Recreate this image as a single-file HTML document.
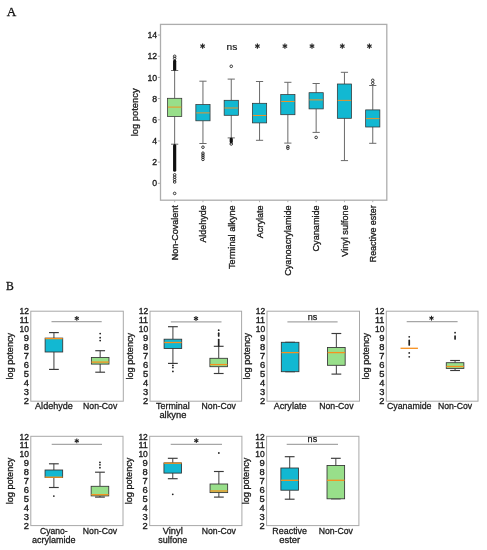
<!DOCTYPE html>
<html><head><meta charset="utf-8"><style>
html,body{margin:0;padding:0;background:#fff;}
body{width:487px;height:550px;overflow:hidden;position:relative;}
svg{position:absolute;left:0;top:0;will-change:transform;filter:blur(0.3px);}
</style></head><body>
<svg width="487" height="550" viewBox="0 0 487 550">
<rect x="0" y="0" width="487" height="550" fill="#fff"/>
<text x="11.5" y="16.3" font-family='"Liberation Serif", serif' font-size="13.2" text-anchor="middle" fill="#111" stroke="#111" stroke-width="0.3" font-weight="normal">A</text>
<line x1="157.8" y1="183.3" x2="160.5" y2="183.3" stroke="#a8a8a8" stroke-width="1"/>
<text x="157.2" y="186.4" font-family='"Liberation Sans", sans-serif' font-size="8.7" text-anchor="end" fill="#1a1a1a" stroke="#1a1a1a" stroke-width="0.32" font-weight="normal">0</text>
<line x1="157.8" y1="162.12" x2="160.5" y2="162.12" stroke="#a8a8a8" stroke-width="1"/>
<text x="157.2" y="165.22" font-family='"Liberation Sans", sans-serif' font-size="8.7" text-anchor="end" fill="#1a1a1a" stroke="#1a1a1a" stroke-width="0.32" font-weight="normal">2</text>
<line x1="157.8" y1="140.94" x2="160.5" y2="140.94" stroke="#a8a8a8" stroke-width="1"/>
<text x="157.2" y="144.04" font-family='"Liberation Sans", sans-serif' font-size="8.7" text-anchor="end" fill="#1a1a1a" stroke="#1a1a1a" stroke-width="0.32" font-weight="normal">4</text>
<line x1="157.8" y1="119.76" x2="160.5" y2="119.76" stroke="#a8a8a8" stroke-width="1"/>
<text x="157.2" y="122.86" font-family='"Liberation Sans", sans-serif' font-size="8.7" text-anchor="end" fill="#1a1a1a" stroke="#1a1a1a" stroke-width="0.32" font-weight="normal">6</text>
<line x1="157.8" y1="98.58" x2="160.5" y2="98.58" stroke="#a8a8a8" stroke-width="1"/>
<text x="157.2" y="101.68" font-family='"Liberation Sans", sans-serif' font-size="8.7" text-anchor="end" fill="#1a1a1a" stroke="#1a1a1a" stroke-width="0.32" font-weight="normal">8</text>
<line x1="157.8" y1="77.4" x2="160.5" y2="77.4" stroke="#a8a8a8" stroke-width="1"/>
<text x="157.2" y="80.5" font-family='"Liberation Sans", sans-serif' font-size="8.7" text-anchor="end" fill="#1a1a1a" stroke="#1a1a1a" stroke-width="0.32" font-weight="normal">10</text>
<line x1="157.8" y1="56.22" x2="160.5" y2="56.22" stroke="#a8a8a8" stroke-width="1"/>
<text x="157.2" y="59.32" font-family='"Liberation Sans", sans-serif' font-size="8.7" text-anchor="end" fill="#1a1a1a" stroke="#1a1a1a" stroke-width="0.32" font-weight="normal">12</text>
<line x1="157.8" y1="35.04" x2="160.5" y2="35.04" stroke="#a8a8a8" stroke-width="1"/>
<text x="157.2" y="38.14" font-family='"Liberation Sans", sans-serif' font-size="8.7" text-anchor="end" fill="#1a1a1a" stroke="#1a1a1a" stroke-width="0.32" font-weight="normal">14</text>
<text x="138.3" y="112.3" font-family='"Liberation Sans", sans-serif' font-size="8.8" text-anchor="middle" fill="#1a1a1a" stroke="#1a1a1a" stroke-width="0.3" font-weight="normal" transform="rotate(-90 138.3 112.3)" textLength="48" lengthAdjust="spacingAndGlyphs">log potency</text>
<g id="A-boxes">
<line x1="174.65" y1="70.5" x2="174.65" y2="98.3" stroke="#6a6a6a" stroke-width="1"/>
<line x1="174.65" y1="116.5" x2="174.65" y2="144.2" stroke="#6a6a6a" stroke-width="1"/>
<line x1="171.05" y1="70.5" x2="178.25" y2="70.5" stroke="#6a6a6a" stroke-width="1"/>
<line x1="171.05" y1="144.2" x2="178.25" y2="144.2" stroke="#6a6a6a" stroke-width="1"/>
<rect x="167.55" y="98.3" width="14.2" height="18.2" fill="#98df8a" stroke="#333333" stroke-width="0.75"/>
<line x1="167.95" y1="107.1" x2="181.35" y2="107.1" stroke="#f7901e" stroke-width="0.95"/>
<line x1="202.95" y1="81.2" x2="202.95" y2="104.6" stroke="#6a6a6a" stroke-width="1"/>
<line x1="202.95" y1="120.8" x2="202.95" y2="143.5" stroke="#6a6a6a" stroke-width="1"/>
<line x1="199.35" y1="81.2" x2="206.55" y2="81.2" stroke="#6a6a6a" stroke-width="1"/>
<line x1="199.35" y1="143.5" x2="206.55" y2="143.5" stroke="#6a6a6a" stroke-width="1"/>
<rect x="195.85" y="104.6" width="14.2" height="16.2" fill="#12b8d2" stroke="#333333" stroke-width="0.75"/>
<line x1="196.25" y1="112.9" x2="209.65" y2="112.9" stroke="#f7901e" stroke-width="0.95"/>
<line x1="231.25" y1="79.1" x2="231.25" y2="100.3" stroke="#6a6a6a" stroke-width="1"/>
<line x1="231.25" y1="115.3" x2="231.25" y2="137.9" stroke="#6a6a6a" stroke-width="1"/>
<line x1="227.65" y1="79.1" x2="234.85" y2="79.1" stroke="#6a6a6a" stroke-width="1"/>
<line x1="227.65" y1="137.9" x2="234.85" y2="137.9" stroke="#6a6a6a" stroke-width="1"/>
<rect x="224.15" y="100.3" width="14.2" height="15" fill="#12b8d2" stroke="#333333" stroke-width="0.75"/>
<line x1="224.55" y1="108" x2="237.95" y2="108" stroke="#f7901e" stroke-width="0.95"/>
<line x1="259.55" y1="81.5" x2="259.55" y2="103.3" stroke="#6a6a6a" stroke-width="1"/>
<line x1="259.55" y1="122.9" x2="259.55" y2="140.3" stroke="#6a6a6a" stroke-width="1"/>
<line x1="255.95" y1="81.5" x2="263.15" y2="81.5" stroke="#6a6a6a" stroke-width="1"/>
<line x1="255.95" y1="140.3" x2="263.15" y2="140.3" stroke="#6a6a6a" stroke-width="1"/>
<rect x="252.45" y="103.3" width="14.2" height="19.6" fill="#12b8d2" stroke="#333333" stroke-width="0.75"/>
<line x1="252.85" y1="115.5" x2="266.25" y2="115.5" stroke="#f7901e" stroke-width="0.95"/>
<line x1="287.85" y1="82.3" x2="287.85" y2="94.6" stroke="#6a6a6a" stroke-width="1"/>
<line x1="287.85" y1="114.7" x2="287.85" y2="143.1" stroke="#6a6a6a" stroke-width="1"/>
<line x1="284.25" y1="82.3" x2="291.45" y2="82.3" stroke="#6a6a6a" stroke-width="1"/>
<line x1="284.25" y1="143.1" x2="291.45" y2="143.1" stroke="#6a6a6a" stroke-width="1"/>
<rect x="280.75" y="94.6" width="14.2" height="20.1" fill="#12b8d2" stroke="#333333" stroke-width="0.75"/>
<line x1="281.15" y1="101.5" x2="294.55" y2="101.5" stroke="#f7901e" stroke-width="0.95"/>
<line x1="316.15" y1="83.5" x2="316.15" y2="92.7" stroke="#6a6a6a" stroke-width="1"/>
<line x1="316.15" y1="108.9" x2="316.15" y2="132.4" stroke="#6a6a6a" stroke-width="1"/>
<line x1="312.55" y1="83.5" x2="319.75" y2="83.5" stroke="#6a6a6a" stroke-width="1"/>
<line x1="312.55" y1="132.4" x2="319.75" y2="132.4" stroke="#6a6a6a" stroke-width="1"/>
<rect x="309.05" y="92.7" width="14.2" height="16.2" fill="#12b8d2" stroke="#333333" stroke-width="0.75"/>
<line x1="309.45" y1="99.9" x2="322.85" y2="99.9" stroke="#f7901e" stroke-width="0.95"/>
<line x1="344.45" y1="72.3" x2="344.45" y2="84" stroke="#6a6a6a" stroke-width="1"/>
<line x1="344.45" y1="118.3" x2="344.45" y2="160.6" stroke="#6a6a6a" stroke-width="1"/>
<line x1="340.85" y1="72.3" x2="348.05" y2="72.3" stroke="#6a6a6a" stroke-width="1"/>
<line x1="340.85" y1="160.6" x2="348.05" y2="160.6" stroke="#6a6a6a" stroke-width="1"/>
<rect x="337.35" y="84" width="14.2" height="34.3" fill="#12b8d2" stroke="#333333" stroke-width="0.75"/>
<line x1="337.75" y1="100.4" x2="351.15" y2="100.4" stroke="#f7901e" stroke-width="0.95"/>
<line x1="372.75" y1="85.5" x2="372.75" y2="109.9" stroke="#6a6a6a" stroke-width="1"/>
<line x1="372.75" y1="127" x2="372.75" y2="143.3" stroke="#6a6a6a" stroke-width="1"/>
<line x1="369.15" y1="85.5" x2="376.35" y2="85.5" stroke="#6a6a6a" stroke-width="1"/>
<line x1="369.15" y1="143.3" x2="376.35" y2="143.3" stroke="#6a6a6a" stroke-width="1"/>
<rect x="365.65" y="109.9" width="14.2" height="17.1" fill="#12b8d2" stroke="#333333" stroke-width="0.75"/>
<line x1="366.05" y1="118.6" x2="379.45" y2="118.6" stroke="#f7901e" stroke-width="0.95"/>
</g>
<rect x="173.05" y="59.6" width="3.2" height="11.2" rx="1.6" fill="#111"/>
<circle cx="174.65" cy="56.3" r="1.3" fill="none" stroke="#1a1a1a" stroke-width="0.85"/>
<circle cx="174.65" cy="58.4" r="1.3" fill="none" stroke="#1a1a1a" stroke-width="0.85"/>
<rect x="173.05" y="144" width="3.2" height="27.8" rx="1.6" fill="#111"/>
<circle cx="174.65" cy="174.8" r="1.3" fill="none" stroke="#1a1a1a" stroke-width="0.85"/>
<circle cx="174.65" cy="177.2" r="1.3" fill="none" stroke="#1a1a1a" stroke-width="0.85"/>
<circle cx="174.65" cy="179.6" r="1.3" fill="none" stroke="#1a1a1a" stroke-width="0.85"/>
<circle cx="174.65" cy="182" r="1.3" fill="none" stroke="#1a1a1a" stroke-width="0.85"/>
<circle cx="174.65" cy="193.4" r="1.3" fill="none" stroke="#1a1a1a" stroke-width="0.85"/>
<circle cx="202.95" cy="147.2" r="1.3" fill="none" stroke="#1a1a1a" stroke-width="0.85"/>
<circle cx="202.95" cy="153.2" r="1.3" fill="none" stroke="#1a1a1a" stroke-width="0.85"/>
<circle cx="202.95" cy="155.2" r="1.3" fill="none" stroke="#1a1a1a" stroke-width="0.85"/>
<circle cx="202.95" cy="157.2" r="1.3" fill="none" stroke="#1a1a1a" stroke-width="0.85"/>
<circle cx="202.95" cy="159.4" r="1.3" fill="none" stroke="#1a1a1a" stroke-width="0.85"/>
<circle cx="231.25" cy="66.3" r="1.3" fill="none" stroke="#1a1a1a" stroke-width="0.85"/>
<rect x="229.65" y="137.4" width="3.2" height="6" rx="1.6" fill="#111"/>
<circle cx="231.25" cy="144" r="1.3" fill="none" stroke="#1a1a1a" stroke-width="0.85"/>
<circle cx="287.85" cy="146.6" r="1.3" fill="none" stroke="#1a1a1a" stroke-width="0.85"/>
<circle cx="287.85" cy="148.3" r="1.3" fill="none" stroke="#1a1a1a" stroke-width="0.85"/>
<circle cx="316.15" cy="137.4" r="1.3" fill="none" stroke="#1a1a1a" stroke-width="0.85"/>
<circle cx="372.75" cy="80.3" r="1.3" fill="none" stroke="#1a1a1a" stroke-width="0.85"/>
<circle cx="372.75" cy="83.3" r="1.3" fill="none" stroke="#1a1a1a" stroke-width="0.85"/>
<line x1="202.6" y1="43.5" x2="202.6" y2="48.7" stroke="#2a2a2a" stroke-width="1.2"/>
<line x1="200.35" y1="44.8" x2="204.85" y2="47.4" stroke="#2a2a2a" stroke-width="1.2"/>
<line x1="200.35" y1="47.4" x2="204.85" y2="44.8" stroke="#2a2a2a" stroke-width="1.2"/>
<line x1="257.4" y1="43.5" x2="257.4" y2="48.7" stroke="#2a2a2a" stroke-width="1.2"/>
<line x1="255.15" y1="44.8" x2="259.65" y2="47.4" stroke="#2a2a2a" stroke-width="1.2"/>
<line x1="255.15" y1="47.4" x2="259.65" y2="44.8" stroke="#2a2a2a" stroke-width="1.2"/>
<line x1="284.9" y1="43.5" x2="284.9" y2="48.7" stroke="#2a2a2a" stroke-width="1.2"/>
<line x1="282.65" y1="44.8" x2="287.15" y2="47.4" stroke="#2a2a2a" stroke-width="1.2"/>
<line x1="282.65" y1="47.4" x2="287.15" y2="44.8" stroke="#2a2a2a" stroke-width="1.2"/>
<line x1="312" y1="43.5" x2="312" y2="48.7" stroke="#2a2a2a" stroke-width="1.2"/>
<line x1="309.75" y1="44.8" x2="314.25" y2="47.4" stroke="#2a2a2a" stroke-width="1.2"/>
<line x1="309.75" y1="47.4" x2="314.25" y2="44.8" stroke="#2a2a2a" stroke-width="1.2"/>
<line x1="342.3" y1="43.5" x2="342.3" y2="48.7" stroke="#2a2a2a" stroke-width="1.2"/>
<line x1="340.05" y1="44.8" x2="344.55" y2="47.4" stroke="#2a2a2a" stroke-width="1.2"/>
<line x1="340.05" y1="47.4" x2="344.55" y2="44.8" stroke="#2a2a2a" stroke-width="1.2"/>
<line x1="369.4" y1="43.5" x2="369.4" y2="48.7" stroke="#2a2a2a" stroke-width="1.2"/>
<line x1="367.15" y1="44.8" x2="371.65" y2="47.4" stroke="#2a2a2a" stroke-width="1.2"/>
<line x1="367.15" y1="47.4" x2="371.65" y2="44.8" stroke="#2a2a2a" stroke-width="1.2"/>
<text x="231.9" y="49.7" font-family='"Liberation Sans", sans-serif' font-size="9.8" text-anchor="middle" fill="#1a1a1a" stroke="#1a1a1a" stroke-width="0.2" font-weight="normal" textLength="10.8" lengthAdjust="spacingAndGlyphs">ns</text>
<text x="177.95" y="205.3" font-family='"Liberation Sans", sans-serif' font-size="8.7" text-anchor="end" fill="#1a1a1a" stroke="#1a1a1a" stroke-width="0.3" font-weight="normal" transform="rotate(-90 177.95 205.3)" textLength="55" lengthAdjust="spacingAndGlyphs">Non-Covalent</text>
<text x="206.25" y="205.3" font-family='"Liberation Sans", sans-serif' font-size="8.7" text-anchor="end" fill="#1a1a1a" stroke="#1a1a1a" stroke-width="0.3" font-weight="normal" transform="rotate(-90 206.25 205.3)" textLength="37.3" lengthAdjust="spacingAndGlyphs">Aldehyde</text>
<text x="234.55" y="205.3" font-family='"Liberation Sans", sans-serif' font-size="8.7" text-anchor="end" fill="#1a1a1a" stroke="#1a1a1a" stroke-width="0.3" font-weight="normal" transform="rotate(-90 234.55 205.3)" textLength="63.7" lengthAdjust="spacingAndGlyphs">Terminal alkyne</text>
<text x="262.85" y="205.3" font-family='"Liberation Sans", sans-serif' font-size="8.7" text-anchor="end" fill="#1a1a1a" stroke="#1a1a1a" stroke-width="0.3" font-weight="normal" transform="rotate(-90 262.85 205.3)" textLength="33" lengthAdjust="spacingAndGlyphs">Acrylate</text>
<text x="291.15" y="205.3" font-family='"Liberation Sans", sans-serif' font-size="8.7" text-anchor="end" fill="#1a1a1a" stroke="#1a1a1a" stroke-width="0.3" font-weight="normal" transform="rotate(-90 291.15 205.3)" textLength="70.5" lengthAdjust="spacingAndGlyphs">Cyanoacrylamide</text>
<text x="319.45" y="205.3" font-family='"Liberation Sans", sans-serif' font-size="8.7" text-anchor="end" fill="#1a1a1a" stroke="#1a1a1a" stroke-width="0.3" font-weight="normal" transform="rotate(-90 319.45 205.3)" textLength="46.2" lengthAdjust="spacingAndGlyphs">Cyanamide</text>
<text x="347.75" y="205.3" font-family='"Liberation Sans", sans-serif' font-size="8.7" text-anchor="end" fill="#1a1a1a" stroke="#1a1a1a" stroke-width="0.3" font-weight="normal" transform="rotate(-90 347.75 205.3)" textLength="51.4" lengthAdjust="spacingAndGlyphs">Vinyl sulfone</text>
<text x="376.05" y="205.3" font-family='"Liberation Sans", sans-serif' font-size="8.7" text-anchor="end" fill="#1a1a1a" stroke="#1a1a1a" stroke-width="0.3" font-weight="normal" transform="rotate(-90 376.05 205.3)" textLength="57" lengthAdjust="spacingAndGlyphs">Reactive ester</text>
<line x1="174.65" y1="200.2" x2="174.65" y2="202.2" stroke="#a8a8a8" stroke-width="0.9"/>
<line x1="202.95" y1="200.2" x2="202.95" y2="202.2" stroke="#a8a8a8" stroke-width="0.9"/>
<line x1="231.25" y1="200.2" x2="231.25" y2="202.2" stroke="#a8a8a8" stroke-width="0.9"/>
<line x1="259.55" y1="200.2" x2="259.55" y2="202.2" stroke="#a8a8a8" stroke-width="0.9"/>
<line x1="287.85" y1="200.2" x2="287.85" y2="202.2" stroke="#a8a8a8" stroke-width="0.9"/>
<line x1="316.15" y1="200.2" x2="316.15" y2="202.2" stroke="#a8a8a8" stroke-width="0.9"/>
<line x1="344.45" y1="200.2" x2="344.45" y2="202.2" stroke="#a8a8a8" stroke-width="0.9"/>
<line x1="372.75" y1="200.2" x2="372.75" y2="202.2" stroke="#a8a8a8" stroke-width="0.9"/>
<rect x="160.5" y="24.4" width="226.3" height="175.8" fill="none" stroke="#adadad" stroke-width="1.3"/>
<text x="9.9" y="290" font-family='"Liberation Serif", serif' font-size="13.5" text-anchor="middle" fill="#111" stroke="#111" stroke-width="0.3" font-weight="normal" textLength="7.8" lengthAdjust="spacingAndGlyphs">B</text>
<text x="28.9" y="404.4" font-family='"Liberation Sans", sans-serif' font-size="8.9" text-anchor="end" fill="#1a1a1a" stroke="#1a1a1a" stroke-width="0.35" font-weight="normal" textLength="5.2" lengthAdjust="spacingAndGlyphs">2</text>
<text x="28.9" y="395.4" font-family='"Liberation Sans", sans-serif' font-size="8.9" text-anchor="end" fill="#1a1a1a" stroke="#1a1a1a" stroke-width="0.35" font-weight="normal" textLength="5.2" lengthAdjust="spacingAndGlyphs">3</text>
<text x="28.9" y="386.4" font-family='"Liberation Sans", sans-serif' font-size="8.9" text-anchor="end" fill="#1a1a1a" stroke="#1a1a1a" stroke-width="0.35" font-weight="normal" textLength="5.2" lengthAdjust="spacingAndGlyphs">4</text>
<text x="28.9" y="377.4" font-family='"Liberation Sans", sans-serif' font-size="8.9" text-anchor="end" fill="#1a1a1a" stroke="#1a1a1a" stroke-width="0.35" font-weight="normal" textLength="5.2" lengthAdjust="spacingAndGlyphs">5</text>
<text x="28.9" y="368.4" font-family='"Liberation Sans", sans-serif' font-size="8.9" text-anchor="end" fill="#1a1a1a" stroke="#1a1a1a" stroke-width="0.35" font-weight="normal" textLength="5.2" lengthAdjust="spacingAndGlyphs">6</text>
<text x="28.9" y="359.4" font-family='"Liberation Sans", sans-serif' font-size="8.9" text-anchor="end" fill="#1a1a1a" stroke="#1a1a1a" stroke-width="0.35" font-weight="normal" textLength="5.2" lengthAdjust="spacingAndGlyphs">7</text>
<text x="28.9" y="350.4" font-family='"Liberation Sans", sans-serif' font-size="8.9" text-anchor="end" fill="#1a1a1a" stroke="#1a1a1a" stroke-width="0.35" font-weight="normal" textLength="5.2" lengthAdjust="spacingAndGlyphs">8</text>
<text x="28.9" y="341.4" font-family='"Liberation Sans", sans-serif' font-size="8.9" text-anchor="end" fill="#1a1a1a" stroke="#1a1a1a" stroke-width="0.35" font-weight="normal" textLength="5.2" lengthAdjust="spacingAndGlyphs">9</text>
<text x="28.9" y="332.4" font-family='"Liberation Sans", sans-serif' font-size="8.9" text-anchor="end" fill="#1a1a1a" stroke="#1a1a1a" stroke-width="0.35" font-weight="normal" textLength="9.4" lengthAdjust="spacingAndGlyphs">10</text>
<text x="28.9" y="323.4" font-family='"Liberation Sans", sans-serif' font-size="8.9" text-anchor="end" fill="#1a1a1a" stroke="#1a1a1a" stroke-width="0.35" font-weight="normal" textLength="9.4" lengthAdjust="spacingAndGlyphs">11</text>
<text x="28.9" y="314.4" font-family='"Liberation Sans", sans-serif' font-size="8.9" text-anchor="end" fill="#1a1a1a" stroke="#1a1a1a" stroke-width="0.35" font-weight="normal" textLength="9.4" lengthAdjust="spacingAndGlyphs">12</text>
<text x="13.5" y="356.2" font-family='"Liberation Sans", sans-serif' font-size="8.6" text-anchor="middle" fill="#1a1a1a" stroke="#1a1a1a" stroke-width="0.3" font-weight="normal" transform="rotate(-90 13.5 356.2)" textLength="46.7" lengthAdjust="spacingAndGlyphs">log potency</text>
<line x1="53.92" y1="332.6" x2="53.92" y2="338.1" stroke="#505050" stroke-width="1.1"/>
<line x1="53.92" y1="352" x2="53.92" y2="369.4" stroke="#505050" stroke-width="1.1"/>
<line x1="49.02" y1="332.6" x2="58.82" y2="332.6" stroke="#3a3a3a" stroke-width="1.15"/>
<line x1="49.02" y1="369.4" x2="58.82" y2="369.4" stroke="#3a3a3a" stroke-width="1.15"/>
<rect x="45.12" y="338.1" width="17.6" height="13.9" fill="#12b8d2" stroke="#333333" stroke-width="0.85"/>
<line x1="45.23" y1="338.6" x2="62.62" y2="338.6" stroke="#f7901e" stroke-width="1.3"/>
<line x1="100.17" y1="350.7" x2="100.17" y2="357.5" stroke="#505050" stroke-width="1.1"/>
<line x1="100.17" y1="364.1" x2="100.17" y2="372.2" stroke="#505050" stroke-width="1.1"/>
<line x1="95.27" y1="350.7" x2="105.08" y2="350.7" stroke="#3a3a3a" stroke-width="1.15"/>
<line x1="95.27" y1="372.2" x2="105.08" y2="372.2" stroke="#3a3a3a" stroke-width="1.15"/>
<rect x="91.38" y="357.5" width="17.6" height="6.6" fill="#98df8a" stroke="#333333" stroke-width="0.85"/>
<line x1="91.47" y1="362.1" x2="108.88" y2="362.1" stroke="#f7901e" stroke-width="1.3"/>
<circle cx="100.17" cy="333.6" r="0.9" fill="#222"/>
<circle cx="100.17" cy="337.7" r="0.9" fill="#222"/>
<circle cx="100.17" cy="340.6" r="0.9" fill="#222"/>
<line x1="51.5" y1="321.7" x2="101.7" y2="321.7" stroke="#a6a6a6" stroke-width="1.25"/>
<line x1="76.8" y1="315.9" x2="76.8" y2="320.7" stroke="#222" stroke-width="1.05"/>
<line x1="74.72" y1="317.1" x2="78.88" y2="319.5" stroke="#222" stroke-width="1.05"/>
<line x1="74.72" y1="319.5" x2="78.88" y2="317.1" stroke="#222" stroke-width="1.05"/>
<text x="53.92" y="409.1" font-family='"Liberation Sans", sans-serif' font-size="8.8" text-anchor="middle" fill="#1a1a1a" stroke="#1a1a1a" stroke-width="0.28" font-weight="normal" textLength="37.6" lengthAdjust="spacingAndGlyphs">Aldehyde</text>
<text x="100.17" y="409.1" font-family='"Liberation Sans", sans-serif' font-size="8.8" text-anchor="middle" fill="#1a1a1a" stroke="#1a1a1a" stroke-width="0.28" font-weight="normal" textLength="34.2" lengthAdjust="spacingAndGlyphs">Non-Cov</text>
<rect x="30.8" y="311.2" width="92.5" height="90" fill="none" stroke="#a8a8a8" stroke-width="1.0"/>
<text x="148.1" y="404.4" font-family='"Liberation Sans", sans-serif' font-size="8.9" text-anchor="end" fill="#1a1a1a" stroke="#1a1a1a" stroke-width="0.35" font-weight="normal" textLength="5.2" lengthAdjust="spacingAndGlyphs">2</text>
<text x="148.1" y="395.4" font-family='"Liberation Sans", sans-serif' font-size="8.9" text-anchor="end" fill="#1a1a1a" stroke="#1a1a1a" stroke-width="0.35" font-weight="normal" textLength="5.2" lengthAdjust="spacingAndGlyphs">3</text>
<text x="148.1" y="386.4" font-family='"Liberation Sans", sans-serif' font-size="8.9" text-anchor="end" fill="#1a1a1a" stroke="#1a1a1a" stroke-width="0.35" font-weight="normal" textLength="5.2" lengthAdjust="spacingAndGlyphs">4</text>
<text x="148.1" y="377.4" font-family='"Liberation Sans", sans-serif' font-size="8.9" text-anchor="end" fill="#1a1a1a" stroke="#1a1a1a" stroke-width="0.35" font-weight="normal" textLength="5.2" lengthAdjust="spacingAndGlyphs">5</text>
<text x="148.1" y="368.4" font-family='"Liberation Sans", sans-serif' font-size="8.9" text-anchor="end" fill="#1a1a1a" stroke="#1a1a1a" stroke-width="0.35" font-weight="normal" textLength="5.2" lengthAdjust="spacingAndGlyphs">6</text>
<text x="148.1" y="359.4" font-family='"Liberation Sans", sans-serif' font-size="8.9" text-anchor="end" fill="#1a1a1a" stroke="#1a1a1a" stroke-width="0.35" font-weight="normal" textLength="5.2" lengthAdjust="spacingAndGlyphs">7</text>
<text x="148.1" y="350.4" font-family='"Liberation Sans", sans-serif' font-size="8.9" text-anchor="end" fill="#1a1a1a" stroke="#1a1a1a" stroke-width="0.35" font-weight="normal" textLength="5.2" lengthAdjust="spacingAndGlyphs">8</text>
<text x="148.1" y="341.4" font-family='"Liberation Sans", sans-serif' font-size="8.9" text-anchor="end" fill="#1a1a1a" stroke="#1a1a1a" stroke-width="0.35" font-weight="normal" textLength="5.2" lengthAdjust="spacingAndGlyphs">9</text>
<text x="148.1" y="332.4" font-family='"Liberation Sans", sans-serif' font-size="8.9" text-anchor="end" fill="#1a1a1a" stroke="#1a1a1a" stroke-width="0.35" font-weight="normal" textLength="9.4" lengthAdjust="spacingAndGlyphs">10</text>
<text x="148.1" y="323.4" font-family='"Liberation Sans", sans-serif' font-size="8.9" text-anchor="end" fill="#1a1a1a" stroke="#1a1a1a" stroke-width="0.35" font-weight="normal" textLength="9.4" lengthAdjust="spacingAndGlyphs">11</text>
<text x="148.1" y="314.4" font-family='"Liberation Sans", sans-serif' font-size="8.9" text-anchor="end" fill="#1a1a1a" stroke="#1a1a1a" stroke-width="0.35" font-weight="normal" textLength="9.4" lengthAdjust="spacingAndGlyphs">12</text>
<text x="132.7" y="356.2" font-family='"Liberation Sans", sans-serif' font-size="8.6" text-anchor="middle" fill="#1a1a1a" stroke="#1a1a1a" stroke-width="0.3" font-weight="normal" transform="rotate(-90 132.7 356.2)" textLength="46.7" lengthAdjust="spacingAndGlyphs">log potency</text>
<line x1="172.9" y1="326.7" x2="172.9" y2="339.2" stroke="#505050" stroke-width="1.1"/>
<line x1="172.9" y1="348.5" x2="172.9" y2="363.4" stroke="#505050" stroke-width="1.1"/>
<line x1="168" y1="326.7" x2="177.8" y2="326.7" stroke="#3a3a3a" stroke-width="1.15"/>
<line x1="168" y1="363.4" x2="177.8" y2="363.4" stroke="#3a3a3a" stroke-width="1.15"/>
<rect x="164.1" y="339.2" width="17.6" height="9.3" fill="#12b8d2" stroke="#333333" stroke-width="0.85"/>
<line x1="164.2" y1="342.5" x2="181.6" y2="342.5" stroke="#f7901e" stroke-width="1.3"/>
<circle cx="172.9" cy="365.5" r="0.9" fill="#222"/>
<circle cx="172.9" cy="367.6" r="0.9" fill="#222"/>
<circle cx="172.9" cy="371.4" r="0.9" fill="#222"/>
<line x1="218.7" y1="346.3" x2="218.7" y2="358.3" stroke="#505050" stroke-width="1.1"/>
<line x1="218.7" y1="366.7" x2="218.7" y2="373.5" stroke="#505050" stroke-width="1.1"/>
<line x1="213.8" y1="346.3" x2="223.6" y2="346.3" stroke="#3a3a3a" stroke-width="1.15"/>
<line x1="213.8" y1="373.5" x2="223.6" y2="373.5" stroke="#3a3a3a" stroke-width="1.15"/>
<rect x="209.9" y="358.3" width="17.6" height="8.4" fill="#98df8a" stroke="#333333" stroke-width="0.85"/>
<line x1="210" y1="364.6" x2="227.4" y2="364.6" stroke="#f7901e" stroke-width="1.3"/>
<circle cx="218.7" cy="330.2" r="0.9" fill="#222"/>
<rect x="217.85" y="332.35" width="1.7" height="4.5" rx="0.85" fill="#222"/>
<rect x="217.85" y="338.75" width="1.7" height="8.1" rx="0.85" fill="#222"/>
<line x1="170.8" y1="321.8" x2="221.5" y2="321.8" stroke="#a6a6a6" stroke-width="1.25"/>
<line x1="196" y1="316.1" x2="196" y2="320.9" stroke="#222" stroke-width="1.05"/>
<line x1="193.92" y1="317.3" x2="198.08" y2="319.7" stroke="#222" stroke-width="1.05"/>
<line x1="193.92" y1="319.7" x2="198.08" y2="317.3" stroke="#222" stroke-width="1.05"/>
<text x="172.9" y="409.1" font-family='"Liberation Sans", sans-serif' font-size="8.8" text-anchor="middle" fill="#1a1a1a" stroke="#1a1a1a" stroke-width="0.28" font-weight="normal" textLength="33.6" lengthAdjust="spacingAndGlyphs">Terminal</text>
<text x="172.9" y="418" font-family='"Liberation Sans", sans-serif' font-size="8.8" text-anchor="middle" fill="#1a1a1a" stroke="#1a1a1a" stroke-width="0.28" font-weight="normal" textLength="27" lengthAdjust="spacingAndGlyphs">alkyne</text>
<text x="218.7" y="409.1" font-family='"Liberation Sans", sans-serif' font-size="8.8" text-anchor="middle" fill="#1a1a1a" stroke="#1a1a1a" stroke-width="0.28" font-weight="normal" textLength="34.2" lengthAdjust="spacingAndGlyphs">Non-Cov</text>
<rect x="150" y="311.2" width="91.6" height="90" fill="none" stroke="#a8a8a8" stroke-width="1.0"/>
<text x="265.1" y="404.4" font-family='"Liberation Sans", sans-serif' font-size="8.9" text-anchor="end" fill="#1a1a1a" stroke="#1a1a1a" stroke-width="0.35" font-weight="normal" textLength="5.2" lengthAdjust="spacingAndGlyphs">2</text>
<text x="265.1" y="395.4" font-family='"Liberation Sans", sans-serif' font-size="8.9" text-anchor="end" fill="#1a1a1a" stroke="#1a1a1a" stroke-width="0.35" font-weight="normal" textLength="5.2" lengthAdjust="spacingAndGlyphs">3</text>
<text x="265.1" y="386.4" font-family='"Liberation Sans", sans-serif' font-size="8.9" text-anchor="end" fill="#1a1a1a" stroke="#1a1a1a" stroke-width="0.35" font-weight="normal" textLength="5.2" lengthAdjust="spacingAndGlyphs">4</text>
<text x="265.1" y="377.4" font-family='"Liberation Sans", sans-serif' font-size="8.9" text-anchor="end" fill="#1a1a1a" stroke="#1a1a1a" stroke-width="0.35" font-weight="normal" textLength="5.2" lengthAdjust="spacingAndGlyphs">5</text>
<text x="265.1" y="368.4" font-family='"Liberation Sans", sans-serif' font-size="8.9" text-anchor="end" fill="#1a1a1a" stroke="#1a1a1a" stroke-width="0.35" font-weight="normal" textLength="5.2" lengthAdjust="spacingAndGlyphs">6</text>
<text x="265.1" y="359.4" font-family='"Liberation Sans", sans-serif' font-size="8.9" text-anchor="end" fill="#1a1a1a" stroke="#1a1a1a" stroke-width="0.35" font-weight="normal" textLength="5.2" lengthAdjust="spacingAndGlyphs">7</text>
<text x="265.1" y="350.4" font-family='"Liberation Sans", sans-serif' font-size="8.9" text-anchor="end" fill="#1a1a1a" stroke="#1a1a1a" stroke-width="0.35" font-weight="normal" textLength="5.2" lengthAdjust="spacingAndGlyphs">8</text>
<text x="265.1" y="341.4" font-family='"Liberation Sans", sans-serif' font-size="8.9" text-anchor="end" fill="#1a1a1a" stroke="#1a1a1a" stroke-width="0.35" font-weight="normal" textLength="5.2" lengthAdjust="spacingAndGlyphs">9</text>
<text x="265.1" y="332.4" font-family='"Liberation Sans", sans-serif' font-size="8.9" text-anchor="end" fill="#1a1a1a" stroke="#1a1a1a" stroke-width="0.35" font-weight="normal" textLength="9.4" lengthAdjust="spacingAndGlyphs">10</text>
<text x="265.1" y="323.4" font-family='"Liberation Sans", sans-serif' font-size="8.9" text-anchor="end" fill="#1a1a1a" stroke="#1a1a1a" stroke-width="0.35" font-weight="normal" textLength="9.4" lengthAdjust="spacingAndGlyphs">11</text>
<text x="265.1" y="314.4" font-family='"Liberation Sans", sans-serif' font-size="8.9" text-anchor="end" fill="#1a1a1a" stroke="#1a1a1a" stroke-width="0.35" font-weight="normal" textLength="9.4" lengthAdjust="spacingAndGlyphs">12</text>
<text x="249.7" y="356.2" font-family='"Liberation Sans", sans-serif' font-size="8.6" text-anchor="middle" fill="#1a1a1a" stroke="#1a1a1a" stroke-width="0.3" font-weight="normal" transform="rotate(-90 249.7 356.2)" textLength="46.7" lengthAdjust="spacingAndGlyphs">log potency</text>
<line x1="290.12" y1="342.3" x2="290.12" y2="342.3" stroke="#505050" stroke-width="1.1"/>
<line x1="290.12" y1="371.7" x2="290.12" y2="371.7" stroke="#505050" stroke-width="1.1"/>
<line x1="285.23" y1="342.3" x2="295.02" y2="342.3" stroke="#3a3a3a" stroke-width="1.15"/>
<line x1="285.23" y1="371.7" x2="295.02" y2="371.7" stroke="#3a3a3a" stroke-width="1.15"/>
<rect x="281.32" y="342.3" width="17.6" height="29.4" fill="#12b8d2" stroke="#333333" stroke-width="0.85"/>
<line x1="281.43" y1="352.6" x2="298.82" y2="352.6" stroke="#f7901e" stroke-width="1.3"/>
<line x1="336.38" y1="333.5" x2="336.38" y2="347.5" stroke="#505050" stroke-width="1.1"/>
<line x1="336.38" y1="365.3" x2="336.38" y2="374.1" stroke="#505050" stroke-width="1.1"/>
<line x1="331.48" y1="333.5" x2="341.27" y2="333.5" stroke="#3a3a3a" stroke-width="1.15"/>
<line x1="331.48" y1="374.1" x2="341.27" y2="374.1" stroke="#3a3a3a" stroke-width="1.15"/>
<rect x="327.57" y="347.5" width="17.6" height="17.8" fill="#98df8a" stroke="#333333" stroke-width="0.85"/>
<line x1="327.68" y1="352.6" x2="345.07" y2="352.6" stroke="#f7901e" stroke-width="1.3"/>
<line x1="287.4" y1="321.8" x2="337.6" y2="321.8" stroke="#a6a6a6" stroke-width="1.25"/>
<text x="312.5" y="319.8" font-family='"Liberation Sans", sans-serif' font-size="9.6" text-anchor="middle" fill="#1a1a1a" stroke="#1a1a1a" stroke-width="0.25" font-weight="normal" textLength="9.6" lengthAdjust="spacingAndGlyphs">ns</text>
<text x="290.12" y="409.1" font-family='"Liberation Sans", sans-serif' font-size="8.8" text-anchor="middle" fill="#1a1a1a" stroke="#1a1a1a" stroke-width="0.28" font-weight="normal" textLength="32.8" lengthAdjust="spacingAndGlyphs">Acrylate</text>
<text x="336.38" y="409.1" font-family='"Liberation Sans", sans-serif' font-size="8.8" text-anchor="middle" fill="#1a1a1a" stroke="#1a1a1a" stroke-width="0.28" font-weight="normal" textLength="34.2" lengthAdjust="spacingAndGlyphs">Non-Cov</text>
<rect x="267" y="311.2" width="92.5" height="90" fill="none" stroke="#a8a8a8" stroke-width="1.0"/>
<text x="384.4" y="404.4" font-family='"Liberation Sans", sans-serif' font-size="8.9" text-anchor="end" fill="#1a1a1a" stroke="#1a1a1a" stroke-width="0.35" font-weight="normal" textLength="5.2" lengthAdjust="spacingAndGlyphs">2</text>
<text x="384.4" y="395.4" font-family='"Liberation Sans", sans-serif' font-size="8.9" text-anchor="end" fill="#1a1a1a" stroke="#1a1a1a" stroke-width="0.35" font-weight="normal" textLength="5.2" lengthAdjust="spacingAndGlyphs">3</text>
<text x="384.4" y="386.4" font-family='"Liberation Sans", sans-serif' font-size="8.9" text-anchor="end" fill="#1a1a1a" stroke="#1a1a1a" stroke-width="0.35" font-weight="normal" textLength="5.2" lengthAdjust="spacingAndGlyphs">4</text>
<text x="384.4" y="377.4" font-family='"Liberation Sans", sans-serif' font-size="8.9" text-anchor="end" fill="#1a1a1a" stroke="#1a1a1a" stroke-width="0.35" font-weight="normal" textLength="5.2" lengthAdjust="spacingAndGlyphs">5</text>
<text x="384.4" y="368.4" font-family='"Liberation Sans", sans-serif' font-size="8.9" text-anchor="end" fill="#1a1a1a" stroke="#1a1a1a" stroke-width="0.35" font-weight="normal" textLength="5.2" lengthAdjust="spacingAndGlyphs">6</text>
<text x="384.4" y="359.4" font-family='"Liberation Sans", sans-serif' font-size="8.9" text-anchor="end" fill="#1a1a1a" stroke="#1a1a1a" stroke-width="0.35" font-weight="normal" textLength="5.2" lengthAdjust="spacingAndGlyphs">7</text>
<text x="384.4" y="350.4" font-family='"Liberation Sans", sans-serif' font-size="8.9" text-anchor="end" fill="#1a1a1a" stroke="#1a1a1a" stroke-width="0.35" font-weight="normal" textLength="5.2" lengthAdjust="spacingAndGlyphs">8</text>
<text x="384.4" y="341.4" font-family='"Liberation Sans", sans-serif' font-size="8.9" text-anchor="end" fill="#1a1a1a" stroke="#1a1a1a" stroke-width="0.35" font-weight="normal" textLength="5.2" lengthAdjust="spacingAndGlyphs">9</text>
<text x="384.4" y="332.4" font-family='"Liberation Sans", sans-serif' font-size="8.9" text-anchor="end" fill="#1a1a1a" stroke="#1a1a1a" stroke-width="0.35" font-weight="normal" textLength="9.4" lengthAdjust="spacingAndGlyphs">10</text>
<text x="384.4" y="323.4" font-family='"Liberation Sans", sans-serif' font-size="8.9" text-anchor="end" fill="#1a1a1a" stroke="#1a1a1a" stroke-width="0.35" font-weight="normal" textLength="9.4" lengthAdjust="spacingAndGlyphs">11</text>
<text x="384.4" y="314.4" font-family='"Liberation Sans", sans-serif' font-size="8.9" text-anchor="end" fill="#1a1a1a" stroke="#1a1a1a" stroke-width="0.35" font-weight="normal" textLength="9.4" lengthAdjust="spacingAndGlyphs">12</text>
<text x="369" y="356.2" font-family='"Liberation Sans", sans-serif' font-size="8.6" text-anchor="middle" fill="#1a1a1a" stroke="#1a1a1a" stroke-width="0.3" font-weight="normal" transform="rotate(-90 369 356.2)" textLength="46.7" lengthAdjust="spacingAndGlyphs">log potency</text>
<line x1="400.53" y1="348.3" x2="417.93" y2="348.3" stroke="#f7901e" stroke-width="1.3"/>
<circle cx="409.23" cy="336.8" r="0.9" fill="#222"/>
<rect x="408.38" y="339.55" width="1.7" height="6.3" rx="0.85" fill="#222"/>
<circle cx="409.23" cy="352.9" r="0.9" fill="#222"/>
<circle cx="409.23" cy="356.8" r="0.9" fill="#222"/>
<line x1="455.07" y1="360.5" x2="455.07" y2="362.7" stroke="#505050" stroke-width="1.1"/>
<line x1="455.07" y1="368.4" x2="455.07" y2="370.5" stroke="#505050" stroke-width="1.1"/>
<line x1="450.18" y1="360.5" x2="459.97" y2="360.5" stroke="#3a3a3a" stroke-width="1.15"/>
<line x1="450.18" y1="370.5" x2="459.97" y2="370.5" stroke="#3a3a3a" stroke-width="1.15"/>
<rect x="446.27" y="362.7" width="17.6" height="5.7" fill="#98df8a" stroke="#333333" stroke-width="0.85"/>
<line x1="446.38" y1="366.5" x2="463.77" y2="366.5" stroke="#f7901e" stroke-width="1.3"/>
<circle cx="455.07" cy="332.7" r="0.9" fill="#222"/>
<rect x="454.22" y="335.15" width="1.7" height="4.7" rx="0.85" fill="#222"/>
<line x1="406.7" y1="321.7" x2="457.6" y2="321.7" stroke="#a6a6a6" stroke-width="1.25"/>
<line x1="431.5" y1="315.8" x2="431.5" y2="320.6" stroke="#222" stroke-width="1.05"/>
<line x1="429.42" y1="317" x2="433.58" y2="319.4" stroke="#222" stroke-width="1.05"/>
<line x1="429.42" y1="319.4" x2="433.58" y2="317" stroke="#222" stroke-width="1.05"/>
<text x="409.23" y="409.1" font-family='"Liberation Sans", sans-serif' font-size="8.8" text-anchor="middle" fill="#1a1a1a" stroke="#1a1a1a" stroke-width="0.28" font-weight="normal" textLength="44.5" lengthAdjust="spacingAndGlyphs">Cyanamide</text>
<text x="455.07" y="409.1" font-family='"Liberation Sans", sans-serif' font-size="8.8" text-anchor="middle" fill="#1a1a1a" stroke="#1a1a1a" stroke-width="0.28" font-weight="normal" textLength="34.2" lengthAdjust="spacingAndGlyphs">Non-Cov</text>
<rect x="386.3" y="311.2" width="91.7" height="90" fill="none" stroke="#a8a8a8" stroke-width="1.0"/>
<text x="28.9" y="528.8" font-family='"Liberation Sans", sans-serif' font-size="8.9" text-anchor="end" fill="#1a1a1a" stroke="#1a1a1a" stroke-width="0.35" font-weight="normal" textLength="5.2" lengthAdjust="spacingAndGlyphs">2</text>
<text x="28.9" y="519.87" font-family='"Liberation Sans", sans-serif' font-size="8.9" text-anchor="end" fill="#1a1a1a" stroke="#1a1a1a" stroke-width="0.35" font-weight="normal" textLength="5.2" lengthAdjust="spacingAndGlyphs">3</text>
<text x="28.9" y="510.94" font-family='"Liberation Sans", sans-serif' font-size="8.9" text-anchor="end" fill="#1a1a1a" stroke="#1a1a1a" stroke-width="0.35" font-weight="normal" textLength="5.2" lengthAdjust="spacingAndGlyphs">4</text>
<text x="28.9" y="502.01" font-family='"Liberation Sans", sans-serif' font-size="8.9" text-anchor="end" fill="#1a1a1a" stroke="#1a1a1a" stroke-width="0.35" font-weight="normal" textLength="5.2" lengthAdjust="spacingAndGlyphs">5</text>
<text x="28.9" y="493.08" font-family='"Liberation Sans", sans-serif' font-size="8.9" text-anchor="end" fill="#1a1a1a" stroke="#1a1a1a" stroke-width="0.35" font-weight="normal" textLength="5.2" lengthAdjust="spacingAndGlyphs">6</text>
<text x="28.9" y="484.15" font-family='"Liberation Sans", sans-serif' font-size="8.9" text-anchor="end" fill="#1a1a1a" stroke="#1a1a1a" stroke-width="0.35" font-weight="normal" textLength="5.2" lengthAdjust="spacingAndGlyphs">7</text>
<text x="28.9" y="475.22" font-family='"Liberation Sans", sans-serif' font-size="8.9" text-anchor="end" fill="#1a1a1a" stroke="#1a1a1a" stroke-width="0.35" font-weight="normal" textLength="5.2" lengthAdjust="spacingAndGlyphs">8</text>
<text x="28.9" y="466.29" font-family='"Liberation Sans", sans-serif' font-size="8.9" text-anchor="end" fill="#1a1a1a" stroke="#1a1a1a" stroke-width="0.35" font-weight="normal" textLength="5.2" lengthAdjust="spacingAndGlyphs">9</text>
<text x="28.9" y="457.36" font-family='"Liberation Sans", sans-serif' font-size="8.9" text-anchor="end" fill="#1a1a1a" stroke="#1a1a1a" stroke-width="0.35" font-weight="normal" textLength="9.4" lengthAdjust="spacingAndGlyphs">10</text>
<text x="28.9" y="448.43" font-family='"Liberation Sans", sans-serif' font-size="8.9" text-anchor="end" fill="#1a1a1a" stroke="#1a1a1a" stroke-width="0.35" font-weight="normal" textLength="9.4" lengthAdjust="spacingAndGlyphs">11</text>
<text x="28.9" y="439.5" font-family='"Liberation Sans", sans-serif' font-size="8.9" text-anchor="end" fill="#1a1a1a" stroke="#1a1a1a" stroke-width="0.35" font-weight="normal" textLength="9.4" lengthAdjust="spacingAndGlyphs">12</text>
<text x="13.5" y="480.95" font-family='"Liberation Sans", sans-serif' font-size="8.6" text-anchor="middle" fill="#1a1a1a" stroke="#1a1a1a" stroke-width="0.3" font-weight="normal" transform="rotate(-90 13.5 480.95)" textLength="46.7" lengthAdjust="spacingAndGlyphs">log potency</text>
<line x1="53.85" y1="463.8" x2="53.85" y2="470" stroke="#505050" stroke-width="1.1"/>
<line x1="53.85" y1="477.5" x2="53.85" y2="487.5" stroke="#505050" stroke-width="1.1"/>
<line x1="48.95" y1="463.8" x2="58.75" y2="463.8" stroke="#3a3a3a" stroke-width="1.15"/>
<line x1="48.95" y1="487.5" x2="58.75" y2="487.5" stroke="#3a3a3a" stroke-width="1.15"/>
<rect x="45.05" y="470" width="17.6" height="7.5" fill="#12b8d2" stroke="#333333" stroke-width="0.85"/>
<line x1="45.15" y1="477.2" x2="62.55" y2="477.2" stroke="#f7901e" stroke-width="1.3"/>
<circle cx="53.85" cy="496.1" r="0.9" fill="#222"/>
<line x1="99.95" y1="472.2" x2="99.95" y2="486.3" stroke="#505050" stroke-width="1.1"/>
<line x1="99.95" y1="495.9" x2="99.95" y2="497.1" stroke="#505050" stroke-width="1.1"/>
<line x1="95.05" y1="472.2" x2="104.85" y2="472.2" stroke="#3a3a3a" stroke-width="1.15"/>
<line x1="95.05" y1="497.1" x2="104.85" y2="497.1" stroke="#3a3a3a" stroke-width="1.15"/>
<rect x="91.15" y="486.3" width="17.6" height="9.6" fill="#98df8a" stroke="#333333" stroke-width="0.85"/>
<line x1="91.25" y1="494.7" x2="108.65" y2="494.7" stroke="#f7901e" stroke-width="1.3"/>
<circle cx="99.95" cy="462.4" r="0.9" fill="#222"/>
<circle cx="99.95" cy="464.8" r="0.9" fill="#222"/>
<circle cx="99.95" cy="467.7" r="0.9" fill="#222"/>
<line x1="51.7" y1="444.3" x2="102" y2="444.3" stroke="#a6a6a6" stroke-width="1.25"/>
<line x1="76.8" y1="438.4" x2="76.8" y2="443.2" stroke="#222" stroke-width="1.05"/>
<line x1="74.72" y1="439.6" x2="78.88" y2="442" stroke="#222" stroke-width="1.05"/>
<line x1="74.72" y1="442" x2="78.88" y2="439.6" stroke="#222" stroke-width="1.05"/>
<text x="53.85" y="534.2" font-family='"Liberation Sans", sans-serif' font-size="8.8" text-anchor="middle" fill="#1a1a1a" stroke="#1a1a1a" stroke-width="0.28" font-weight="normal" textLength="27.5" lengthAdjust="spacingAndGlyphs">Cyano-</text>
<text x="53.85" y="543.1" font-family='"Liberation Sans", sans-serif' font-size="8.8" text-anchor="middle" fill="#1a1a1a" stroke="#1a1a1a" stroke-width="0.28" font-weight="normal" textLength="43.6" lengthAdjust="spacingAndGlyphs">acrylamide</text>
<text x="99.95" y="534.2" font-family='"Liberation Sans", sans-serif' font-size="8.8" text-anchor="middle" fill="#1a1a1a" stroke="#1a1a1a" stroke-width="0.28" font-weight="normal" textLength="34.2" lengthAdjust="spacingAndGlyphs">Non-Cov</text>
<rect x="30.8" y="436.3" width="92.2" height="89.3" fill="none" stroke="#a8a8a8" stroke-width="1.0"/>
<text x="147.8" y="528.8" font-family='"Liberation Sans", sans-serif' font-size="8.9" text-anchor="end" fill="#1a1a1a" stroke="#1a1a1a" stroke-width="0.35" font-weight="normal" textLength="5.2" lengthAdjust="spacingAndGlyphs">2</text>
<text x="147.8" y="519.87" font-family='"Liberation Sans", sans-serif' font-size="8.9" text-anchor="end" fill="#1a1a1a" stroke="#1a1a1a" stroke-width="0.35" font-weight="normal" textLength="5.2" lengthAdjust="spacingAndGlyphs">3</text>
<text x="147.8" y="510.94" font-family='"Liberation Sans", sans-serif' font-size="8.9" text-anchor="end" fill="#1a1a1a" stroke="#1a1a1a" stroke-width="0.35" font-weight="normal" textLength="5.2" lengthAdjust="spacingAndGlyphs">4</text>
<text x="147.8" y="502.01" font-family='"Liberation Sans", sans-serif' font-size="8.9" text-anchor="end" fill="#1a1a1a" stroke="#1a1a1a" stroke-width="0.35" font-weight="normal" textLength="5.2" lengthAdjust="spacingAndGlyphs">5</text>
<text x="147.8" y="493.08" font-family='"Liberation Sans", sans-serif' font-size="8.9" text-anchor="end" fill="#1a1a1a" stroke="#1a1a1a" stroke-width="0.35" font-weight="normal" textLength="5.2" lengthAdjust="spacingAndGlyphs">6</text>
<text x="147.8" y="484.15" font-family='"Liberation Sans", sans-serif' font-size="8.9" text-anchor="end" fill="#1a1a1a" stroke="#1a1a1a" stroke-width="0.35" font-weight="normal" textLength="5.2" lengthAdjust="spacingAndGlyphs">7</text>
<text x="147.8" y="475.22" font-family='"Liberation Sans", sans-serif' font-size="8.9" text-anchor="end" fill="#1a1a1a" stroke="#1a1a1a" stroke-width="0.35" font-weight="normal" textLength="5.2" lengthAdjust="spacingAndGlyphs">8</text>
<text x="147.8" y="466.29" font-family='"Liberation Sans", sans-serif' font-size="8.9" text-anchor="end" fill="#1a1a1a" stroke="#1a1a1a" stroke-width="0.35" font-weight="normal" textLength="5.2" lengthAdjust="spacingAndGlyphs">9</text>
<text x="147.8" y="457.36" font-family='"Liberation Sans", sans-serif' font-size="8.9" text-anchor="end" fill="#1a1a1a" stroke="#1a1a1a" stroke-width="0.35" font-weight="normal" textLength="9.4" lengthAdjust="spacingAndGlyphs">10</text>
<text x="147.8" y="448.43" font-family='"Liberation Sans", sans-serif' font-size="8.9" text-anchor="end" fill="#1a1a1a" stroke="#1a1a1a" stroke-width="0.35" font-weight="normal" textLength="9.4" lengthAdjust="spacingAndGlyphs">11</text>
<text x="147.8" y="439.5" font-family='"Liberation Sans", sans-serif' font-size="8.9" text-anchor="end" fill="#1a1a1a" stroke="#1a1a1a" stroke-width="0.35" font-weight="normal" textLength="9.4" lengthAdjust="spacingAndGlyphs">12</text>
<text x="132.4" y="480.95" font-family='"Liberation Sans", sans-serif' font-size="8.6" text-anchor="middle" fill="#1a1a1a" stroke="#1a1a1a" stroke-width="0.3" font-weight="normal" transform="rotate(-90 132.4 480.95)" textLength="46.7" lengthAdjust="spacingAndGlyphs">log potency</text>
<line x1="172.75" y1="458.3" x2="172.75" y2="462.9" stroke="#505050" stroke-width="1.1"/>
<line x1="172.75" y1="473.1" x2="172.75" y2="478.7" stroke="#505050" stroke-width="1.1"/>
<line x1="167.85" y1="458.3" x2="177.65" y2="458.3" stroke="#3a3a3a" stroke-width="1.15"/>
<line x1="167.85" y1="478.7" x2="177.65" y2="478.7" stroke="#3a3a3a" stroke-width="1.15"/>
<rect x="163.95" y="462.9" width="17.6" height="10.2" fill="#12b8d2" stroke="#333333" stroke-width="0.85"/>
<line x1="164.05" y1="463.2" x2="181.45" y2="463.2" stroke="#f7901e" stroke-width="1.3"/>
<circle cx="172.75" cy="494.3" r="0.9" fill="#222"/>
<line x1="218.85" y1="471.5" x2="218.85" y2="484" stroke="#505050" stroke-width="1.1"/>
<line x1="218.85" y1="492.6" x2="218.85" y2="497.1" stroke="#505050" stroke-width="1.1"/>
<line x1="213.95" y1="471.5" x2="223.75" y2="471.5" stroke="#3a3a3a" stroke-width="1.15"/>
<line x1="213.95" y1="497.1" x2="223.75" y2="497.1" stroke="#3a3a3a" stroke-width="1.15"/>
<rect x="210.05" y="484" width="17.6" height="8.6" fill="#98df8a" stroke="#333333" stroke-width="0.85"/>
<line x1="210.15" y1="491" x2="227.55" y2="491" stroke="#f7901e" stroke-width="1.3"/>
<circle cx="218.85" cy="453" r="0.9" fill="#222"/>
<line x1="170.7" y1="444.4" x2="222" y2="444.4" stroke="#a6a6a6" stroke-width="1.25"/>
<line x1="196.3" y1="438.3" x2="196.3" y2="443.1" stroke="#222" stroke-width="1.05"/>
<line x1="194.22" y1="439.5" x2="198.38" y2="441.9" stroke="#222" stroke-width="1.05"/>
<line x1="194.22" y1="441.9" x2="198.38" y2="439.5" stroke="#222" stroke-width="1.05"/>
<text x="172.75" y="534.2" font-family='"Liberation Sans", sans-serif' font-size="8.8" text-anchor="middle" fill="#1a1a1a" stroke="#1a1a1a" stroke-width="0.28" font-weight="normal" textLength="20" lengthAdjust="spacingAndGlyphs">Vinyl</text>
<text x="172.75" y="543.1" font-family='"Liberation Sans", sans-serif' font-size="8.8" text-anchor="middle" fill="#1a1a1a" stroke="#1a1a1a" stroke-width="0.28" font-weight="normal" textLength="29" lengthAdjust="spacingAndGlyphs">sulfone</text>
<text x="218.85" y="534.2" font-family='"Liberation Sans", sans-serif' font-size="8.8" text-anchor="middle" fill="#1a1a1a" stroke="#1a1a1a" stroke-width="0.28" font-weight="normal" textLength="34.2" lengthAdjust="spacingAndGlyphs">Non-Cov</text>
<rect x="149.7" y="436.3" width="92.2" height="89.3" fill="none" stroke="#a8a8a8" stroke-width="1.0"/>
<text x="264.7" y="528.8" font-family='"Liberation Sans", sans-serif' font-size="8.9" text-anchor="end" fill="#1a1a1a" stroke="#1a1a1a" stroke-width="0.35" font-weight="normal" textLength="5.2" lengthAdjust="spacingAndGlyphs">2</text>
<text x="264.7" y="519.87" font-family='"Liberation Sans", sans-serif' font-size="8.9" text-anchor="end" fill="#1a1a1a" stroke="#1a1a1a" stroke-width="0.35" font-weight="normal" textLength="5.2" lengthAdjust="spacingAndGlyphs">3</text>
<text x="264.7" y="510.94" font-family='"Liberation Sans", sans-serif' font-size="8.9" text-anchor="end" fill="#1a1a1a" stroke="#1a1a1a" stroke-width="0.35" font-weight="normal" textLength="5.2" lengthAdjust="spacingAndGlyphs">4</text>
<text x="264.7" y="502.01" font-family='"Liberation Sans", sans-serif' font-size="8.9" text-anchor="end" fill="#1a1a1a" stroke="#1a1a1a" stroke-width="0.35" font-weight="normal" textLength="5.2" lengthAdjust="spacingAndGlyphs">5</text>
<text x="264.7" y="493.08" font-family='"Liberation Sans", sans-serif' font-size="8.9" text-anchor="end" fill="#1a1a1a" stroke="#1a1a1a" stroke-width="0.35" font-weight="normal" textLength="5.2" lengthAdjust="spacingAndGlyphs">6</text>
<text x="264.7" y="484.15" font-family='"Liberation Sans", sans-serif' font-size="8.9" text-anchor="end" fill="#1a1a1a" stroke="#1a1a1a" stroke-width="0.35" font-weight="normal" textLength="5.2" lengthAdjust="spacingAndGlyphs">7</text>
<text x="264.7" y="475.22" font-family='"Liberation Sans", sans-serif' font-size="8.9" text-anchor="end" fill="#1a1a1a" stroke="#1a1a1a" stroke-width="0.35" font-weight="normal" textLength="5.2" lengthAdjust="spacingAndGlyphs">8</text>
<text x="264.7" y="466.29" font-family='"Liberation Sans", sans-serif' font-size="8.9" text-anchor="end" fill="#1a1a1a" stroke="#1a1a1a" stroke-width="0.35" font-weight="normal" textLength="5.2" lengthAdjust="spacingAndGlyphs">9</text>
<text x="264.7" y="457.36" font-family='"Liberation Sans", sans-serif' font-size="8.9" text-anchor="end" fill="#1a1a1a" stroke="#1a1a1a" stroke-width="0.35" font-weight="normal" textLength="9.4" lengthAdjust="spacingAndGlyphs">10</text>
<text x="264.7" y="448.43" font-family='"Liberation Sans", sans-serif' font-size="8.9" text-anchor="end" fill="#1a1a1a" stroke="#1a1a1a" stroke-width="0.35" font-weight="normal" textLength="9.4" lengthAdjust="spacingAndGlyphs">11</text>
<text x="264.7" y="439.5" font-family='"Liberation Sans", sans-serif' font-size="8.9" text-anchor="end" fill="#1a1a1a" stroke="#1a1a1a" stroke-width="0.35" font-weight="normal" textLength="9.4" lengthAdjust="spacingAndGlyphs">12</text>
<text x="249.3" y="480.95" font-family='"Liberation Sans", sans-serif' font-size="8.6" text-anchor="middle" fill="#1a1a1a" stroke="#1a1a1a" stroke-width="0.3" font-weight="normal" transform="rotate(-90 249.3 480.95)" textLength="46.7" lengthAdjust="spacingAndGlyphs">log potency</text>
<line x1="289.68" y1="456.7" x2="289.68" y2="468" stroke="#505050" stroke-width="1.1"/>
<line x1="289.68" y1="490.2" x2="289.68" y2="499.2" stroke="#505050" stroke-width="1.1"/>
<line x1="284.78" y1="456.7" x2="294.57" y2="456.7" stroke="#3a3a3a" stroke-width="1.15"/>
<line x1="284.78" y1="499.2" x2="294.57" y2="499.2" stroke="#3a3a3a" stroke-width="1.15"/>
<rect x="280.88" y="468" width="17.6" height="22.2" fill="#12b8d2" stroke="#333333" stroke-width="0.85"/>
<line x1="280.98" y1="480.3" x2="298.38" y2="480.3" stroke="#f7901e" stroke-width="1.3"/>
<line x1="335.82" y1="458.3" x2="335.82" y2="465.5" stroke="#505050" stroke-width="1.1"/>
<line x1="335.82" y1="498.8" x2="335.82" y2="498.8" stroke="#505050" stroke-width="1.1"/>
<line x1="330.93" y1="458.3" x2="340.72" y2="458.3" stroke="#3a3a3a" stroke-width="1.15"/>
<line x1="330.93" y1="498.8" x2="340.72" y2="498.8" stroke="#3a3a3a" stroke-width="1.15"/>
<rect x="327.02" y="465.5" width="17.6" height="33.3" fill="#98df8a" stroke="#333333" stroke-width="0.85"/>
<line x1="327.12" y1="480.3" x2="344.52" y2="480.3" stroke="#f7901e" stroke-width="1.3"/>
<line x1="286.7" y1="444.4" x2="338" y2="444.4" stroke="#a6a6a6" stroke-width="1.25"/>
<text x="312.4" y="442" font-family='"Liberation Sans", sans-serif' font-size="9.6" text-anchor="middle" fill="#1a1a1a" stroke="#1a1a1a" stroke-width="0.25" font-weight="normal" textLength="9.6" lengthAdjust="spacingAndGlyphs">ns</text>
<text x="289.68" y="534.2" font-family='"Liberation Sans", sans-serif' font-size="8.8" text-anchor="middle" fill="#1a1a1a" stroke="#1a1a1a" stroke-width="0.28" font-weight="normal" textLength="34.6" lengthAdjust="spacingAndGlyphs">Reactive</text>
<text x="289.68" y="543.1" font-family='"Liberation Sans", sans-serif' font-size="8.8" text-anchor="middle" fill="#1a1a1a" stroke="#1a1a1a" stroke-width="0.28" font-weight="normal" textLength="21" lengthAdjust="spacingAndGlyphs">ester</text>
<text x="335.82" y="534.2" font-family='"Liberation Sans", sans-serif' font-size="8.8" text-anchor="middle" fill="#1a1a1a" stroke="#1a1a1a" stroke-width="0.28" font-weight="normal" textLength="34.2" lengthAdjust="spacingAndGlyphs">Non-Cov</text>
<rect x="266.6" y="436.3" width="92.3" height="89.3" fill="none" stroke="#a8a8a8" stroke-width="1.0"/>
</svg>
</body></html>
